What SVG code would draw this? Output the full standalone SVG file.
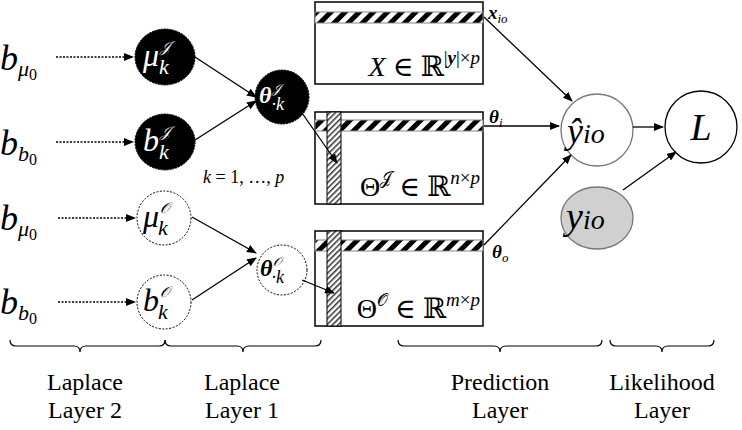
<svg xmlns="http://www.w3.org/2000/svg" width="742" height="430" viewBox="0 0 742 430">
<style>
text{font-family:"Liberation Serif","DejaVu Serif",serif;}
.big{font-size:32px;font-style:italic}
.w{fill:#fff}
.lab{font-size:24px;text-anchor:middle}
.box{fill:#fff;stroke:#000;stroke-width:1.5}
.e{stroke:#000;stroke-width:1.3;fill:none;marker-end:url(#a)}
.d{stroke:#000;stroke-width:1.3;fill:none;stroke-dasharray:2,1.5;marker-end:url(#a)}
.br{stroke:#000;stroke-width:1.2;fill:none}
</style>
<defs>
<marker id="a" markerWidth="10" markerHeight="8" refX="9" refY="4" orient="auto" markerUnits="userSpaceOnUse"><path d="M0,0L10,4L0,8z"/></marker>
<pattern id="h1" width="10" height="10" patternUnits="userSpaceOnUse" patternTransform="rotate(45)"><rect width="10" height="10" fill="#fff"/><rect width="5" height="10" fill="#000"/></pattern>
<pattern id="h2" width="4" height="4" patternUnits="userSpaceOnUse" patternTransform="rotate(45)"><rect width="4" height="4" fill="#fff"/><rect width="1.5" height="4" fill="#333"/></pattern>
</defs>
<g id="left-labels">
<text x="0" y="70" class="big" style="font-size:36px">b<tspan style="font-size:22px" dy="6">μ</tspan><tspan style="font-size:16px;font-style:normal" dy="4">0</tspan></text>
<text x="0" y="155" class="big" style="font-size:36px">b<tspan style="font-size:22px" dy="6">b</tspan><tspan style="font-size:16px;font-style:normal" dy="4">0</tspan></text>
<text x="0" y="230" class="big" style="font-size:36px">b<tspan style="font-size:22px" dy="6">μ</tspan><tspan style="font-size:16px;font-style:normal" dy="4">0</tspan></text>
<text x="0" y="314" class="big" style="font-size:36px">b<tspan style="font-size:22px" dy="6">b</tspan><tspan style="font-size:16px;font-style:normal" dy="4">0</tspan></text>
</g>
<g id="muJ"><ellipse cx="165" cy="57" rx="30" ry="28" fill="#000" stroke="#000" stroke-dasharray="2,1"/><text x="143" y="66" class="big w">μ<tspan style="font-size:15px" dx="1" dy="-14">𝒥</tspan><tspan style="font-size:22px" dx="-11" dy="22">k</tspan></text></g>
<g id="bJ"><ellipse cx="165" cy="142" rx="30" ry="28" fill="#000" stroke="#000" stroke-dasharray="2,1"/><text x="143" y="151" class="big w">b<tspan style="font-size:15px" dx="1" dy="-14">𝒥</tspan><tspan style="font-size:22px" dx="-11" dy="22">k</tspan></text></g>
<g id="thetaJ"><circle cx="282" cy="97" r="27" fill="#000" stroke="#000" stroke-dasharray="2,1"/><text x="259" y="103" class="w" style="font-size:24px;font-style:italic;font-weight:bold">θ<tspan style="font-size:13px;font-weight:normal" dx="1" dy="-10">𝒥</tspan><tspan style="font-size:18px;font-weight:normal" dx="-10" dy="17">·k</tspan></text></g>
<g id="muO"><circle cx="164" cy="218" r="27" fill="#fff" stroke="#000" stroke-dasharray="2,1.5"/><text x="143" y="227" class="big">μ<tspan style="font-size:15px" dx="1" dy="-14">𝒪</tspan><tspan style="font-size:22px" dx="-11" dy="22">k</tspan></text></g>
<g id="bO"><circle cx="164" cy="302" r="27" fill="#fff" stroke="#000" stroke-dasharray="2,1.5"/><text x="143" y="311" class="big">b<tspan style="font-size:15px" dx="1" dy="-14">𝒪</tspan><tspan style="font-size:22px" dx="-11" dy="22">k</tspan></text></g>
<g id="thetaO"><circle cx="282" cy="270" r="25" fill="#fff" stroke="#000" stroke-dasharray="2,1.5"/><text x="260" y="276" style="font-size:24px;font-style:italic;font-weight:bold">θ<tspan style="font-size:13px;font-weight:normal" dx="1" dy="-10">𝒪</tspan><tspan style="font-size:18px;font-weight:normal" dx="-10" dy="17">·k</tspan></text></g>
<text x="203" y="183" style="font-size:18px;font-style:italic">k <tspan style="font-style:normal">= 1, …, </tspan>p</text>
<g id="X">
<rect class="box" x="315" y="2" width="168" height="82"/>
<rect x="315" y="12" width="168" height="11" fill="url(#h1)" stroke="#888"/>
<text x="480" y="76" style="font-size:28px" text-anchor="end"><tspan style="font-style:italic">X</tspan> ∈ ℝ<tspan style="font-size:19px" dy="-12">|<tspan style="font-weight:bold;font-style:italic">y</tspan>|×<tspan style="font-style:italic">p</tspan></tspan></text>
</g>
<g id="ThetaJ">
<rect class="box" x="315" y="112" width="168" height="92"/>
<rect x="315" y="120" width="168" height="11" fill="url(#h1)" stroke="#888"/>
<rect x="327" y="112" width="14" height="92" fill="url(#h2)" stroke="#000"/>
<text x="480" y="196" style="font-size:28px" text-anchor="end">Θ<tspan style="font-size:17px" dy="-12">𝒥</tspan><tspan dy="12"> ∈ ℝ</tspan><tspan style="font-size:19px" dy="-12"><tspan style="font-style:italic">n</tspan>×<tspan style="font-style:italic">p</tspan></tspan></text>
</g>
<g id="ThetaO">
<rect class="box" x="315" y="231" width="168" height="95"/>
<rect x="315" y="240" width="168" height="11" fill="url(#h1)" stroke="#888"/>
<rect x="327" y="231" width="14" height="95" fill="url(#h2)" stroke="#000"/>
<text x="480" y="318" style="font-size:28px" text-anchor="end">Θ<tspan style="font-size:17px" dy="-12">𝒪</tspan><tspan dy="12"> ∈ ℝ</tspan><tspan style="font-size:19px" dy="-12"><tspan style="font-style:italic">m</tspan>×<tspan style="font-style:italic">p</tspan></tspan></text>
</g>
<text x="488" y="19" style="font-size:19px;font-weight:bold;font-style:italic">x<tspan style="font-size:13px;font-weight:normal" dy="4">io</tspan></text>
<text x="489" y="123" style="font-size:19px;font-weight:bold;font-style:italic">θ<tspan style="font-size:13px;font-weight:normal" dy="4">i</tspan></text>
<text x="492" y="258" style="font-size:19px;font-weight:bold;font-style:italic">θ<tspan style="font-size:13px;font-weight:normal" dy="4">o</tspan></text>
<g id="yhat"><circle cx="597" cy="130" r="36" fill="#fff" stroke="#777" stroke-width="1.3"/><text x="567" y="143" class="big" style="font-size:36px">ŷ<tspan style="font-size:28px">io</tspan></text></g>
<g id="L"><circle cx="701" cy="127" r="36" fill="#fff" stroke="#000" stroke-width="1.3"/><text x="701" y="140" class="big" style="font-size:38px" text-anchor="middle">L</text></g>
<g id="y"><ellipse cx="597" cy="218" rx="36" ry="31" fill="#d0d0d0" stroke="#777" stroke-width="1.3"/><text x="566" y="229" class="big" style="font-size:38px">y<tspan style="font-size:28px">io</tspan></text></g>
<g id="connectors">
<line class="d" x1="56" y1="57" x2="133" y2="57"/>
<line class="d" x1="56" y1="142" x2="133" y2="142"/>
<line class="d" x1="58" y1="218" x2="135" y2="218"/>
<line class="d" x1="58" y1="302" x2="135" y2="302"/>
<line class="e" x1="195" y1="57" x2="256" y2="97"/>
<line class="e" x1="195" y1="140" x2="256" y2="101"/>
<line class="e" x1="192" y1="217" x2="256" y2="253"/>
<line class="e" x1="192" y1="300" x2="256" y2="258"/>
<line class="e" x1="302" y1="113" x2="337" y2="163"/>
<line class="e" x1="302" y1="280" x2="334" y2="293"/>
<line class="e" x1="484" y1="17" x2="572" y2="101"/>
<line class="e" x1="484" y1="126" x2="559" y2="126"/>
<line class="e" x1="484" y1="245" x2="571" y2="155"/>
<line class="e" x1="633" y1="127" x2="663" y2="127"/>
<line class="e" x1="623" y1="190" x2="676" y2="152"/>
</g>
<g id="brackets">
<path class="br" d="M10,340 q0,6 6,6 h58 q6,0 6,6 q0,-6 6,-6 h73 q6,0 6,-6"/>
<path class="br" d="M165,340 q0,6 6,6 h66 q6,0 6,6 q0,-6 6,-6 h66 q6,0 6,-6"/>
<path class="br" d="M398,340 q0,6 6,6 h90 q6,0 6,6 q0,-6 6,-6 h90 q6,0 6,-6"/>
<path class="br" d="M610,340 q0,6 6,6 h40 q6,0 6,6 q0,-6 6,-6 h40 q6,0 6,-6"/>
</g>
<g id="layer-labels">
<text class="lab" x="85" y="390">Laplace</text><text class="lab" x="85" y="418">Layer 2</text>
<text class="lab" x="242" y="390">Laplace</text><text class="lab" x="242" y="418">Layer 1</text>
<text class="lab" x="500" y="390">Prediction</text><text class="lab" x="500" y="418">Layer</text>
<text class="lab" x="662" y="390">Likelihood</text><text class="lab" x="662" y="418">Layer</text>
</g>
</svg>
